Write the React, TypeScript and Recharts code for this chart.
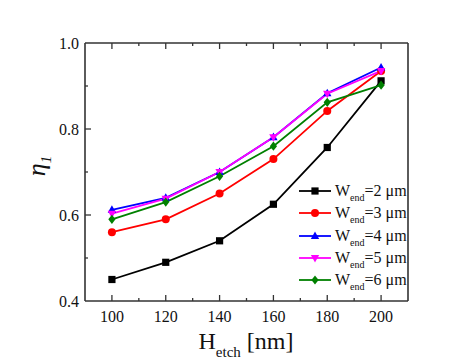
import React from "react";
import { LineChart, Line, XAxis, YAxis } from "recharts";

const FONT = "'Liberation Serif', 'Times New Roman', serif";
const AXIS = "#333333";

const H_ETCH = [100, 120, 140, 160, 180, 200];
const W2 = [0.45, 0.49, 0.54, 0.625, 0.757, 0.912];
const W3 = [0.56, 0.59, 0.65, 0.73, 0.842, 0.935];
const W4 = [0.612, 0.64, 0.70, 0.781, 0.883, 0.943];
const W5 = [0.603, 0.638, 0.70, 0.781, 0.882, 0.935];
const W6 = [0.59, 0.63, 0.69, 0.76, 0.862, 0.902];

const X_TICKS = [90, 100, 110, 120, 130, 140, 150, 160, 170, 180, 190, 200, 210];
const X_LABELS = [100, 120, 140, 160, 180, 200];
const Y_TICKS = [0.4, 0.5, 0.6, 0.7, 0.8, 0.9, 1.0];
const Y_LABELS = [0.4, 0.6, 0.8, 1.0];

const SERIES = [
  { key: "w2", width: "2", color: "#000000", shape: "square", values: W2 },
  { key: "w3", width: "3", color: "#ff0000", shape: "circle", values: W3 },
  { key: "w4", width: "4", color: "#0000ff", shape: "triangle", values: W4 },
  { key: "w5", width: "5", color: "#ff00ff", shape: "down", values: W5 },
  { key: "w6", width: "6", color: "#008000", shape: "diamond", values: W6 },
];

const data = H_ETCH.map((h, i) => {
  const row: Record<string, number> = { h };
  for (const s of SERIES) row[s.key] = s.values[i];
  return row;
});

function Marker({ cx, cy, shape, color }: { cx: number; cy: number; shape: string; color: string }) {
  const r = 3.6;
  if (shape === "square") return <rect x={cx - r} y={cy - r} width={r * 2} height={r * 2} fill={color} />;
  if (shape === "circle") return <circle cx={cx} cy={cy} r={r + 0.4} fill={color} />;
  if (shape === "triangle")
    return <polygon points={`${cx},${cy - r - 1} ${cx + r + 0.6},${cy + r - 0.6} ${cx - r - 0.6},${cy + r - 0.6}`} fill={color} />;
  if (shape === "down")
    return <polygon points={`${cx},${cy + r + 1} ${cx + r + 0.6},${cy - r + 0.6} ${cx - r - 0.6},${cy - r + 0.6}`} fill={color} />;
  return <polygon points={`${cx},${cy - r - 1} ${cx + r},${cy} ${cx},${cy + r + 1} ${cx - r},${cy}`} fill={color} />;
}

function BottomTick(props: any) {
  const { x, y, payload } = props;
  const major = X_LABELS.includes(payload.value);
  if (payload.value === 90 || payload.value === 210) return null;
  return (
    <g>
      <line x1={x} x2={x} y1={y} y2={y - (major ? 6 : 3)} stroke={AXIS} strokeWidth={1.3} />
      {major && (
        <text x={x} y={y + 21} textAnchor="middle" fontFamily={FONT} fontSize={16} fill="#111">
          {payload.value}
        </text>
      )}
    </g>
  );
}

function TopTick(props: any) {
  const { x, y, payload } = props;
  if (payload.value === 90 || payload.value === 210) return null;
  const major = X_LABELS.includes(payload.value);
  return <line x1={x} x2={x} y1={y} y2={y + (major ? 6 : 3)} stroke={AXIS} strokeWidth={1.3} />;
}

function LeftTick(props: any) {
  const { x, y, payload } = props;
  const v = Math.round(payload.value * 10) / 10;
  const major = Y_LABELS.includes(v);
  return (
    <g>
      {v !== 0.4 && v !== 1.0 && (
        <line x1={x} x2={x + (major ? 6 : 3)} y1={y} y2={y} stroke={AXIS} strokeWidth={1.3} />
      )}
      {major && (
        <text x={x - 6} y={y + 5.5} textAnchor="end" fontFamily={FONT} fontSize={16} fill="#111">
          {v.toFixed(1)}
        </text>
      )}
    </g>
  );
}

function RightTick(props: any) {
  const { x, y, payload } = props;
  const v = Math.round(payload.value * 10) / 10;
  if (v === 0.4 || v === 1.0) return null;
  const major = Y_LABELS.includes(v);
  return <line x1={x} x2={x - (major ? 6 : 3)} y1={y} y2={y} stroke={AXIS} strokeWidth={1.3} />;
}

function LegendBox() {
  return (
    <div
      style={{
        position: "absolute",
        left: 298,
        top: 180,
        fontFamily: FONT,
        fontSize: 16,
        color: "#111",
        lineHeight: "16px",
      }}
    >
      {SERIES.map((s) => (
        <div key={s.key} style={{ display: "flex", alignItems: "center", height: 22.3 }}>
          <svg width={34} height={14} style={{ marginRight: 3 }}>
            <line x1={1} x2={33} y1={7} y2={7} stroke={s.color} strokeWidth={1.8} />
            <Marker cx={17} cy={7} shape={s.shape} color={s.color} />
          </svg>
          <span style={{ whiteSpace: "nowrap" }}>
            W<sub style={{ fontSize: 10, verticalAlign: -5, lineHeight: 0 }}>end</sub>={s.width} μm
          </span>
        </div>
      ))}
    </div>
  );
}

export default function App() {
  return (
    <div style={{ position: "absolute", left: 0, top: 0, width: 474, height: 362, background: "#fff" }}>
      <LineChart width={474} height={362} data={data} margin={{ top: 33, right: 56, bottom: 31, left: 0 }}>
        <XAxis
          xAxisId="b"
          dataKey="h"
          type="number"
          domain={[90, 210]}
          ticks={X_TICKS}
          interval={0}
          height={30}
          tickSize={0}
          tickMargin={0}
          tickLine={false}
          axisLine={{ stroke: AXIS, strokeWidth: 1.6 }}
          tick={<BottomTick />}
        />
        <XAxis
          xAxisId="t"
          orientation="top"
          dataKey="h"
          type="number"
          domain={[90, 210]}
          ticks={X_TICKS}
          interval={0}
          height={10}
          tickSize={0}
          tickMargin={0}
          tickLine={false}
          axisLine={{ stroke: AXIS, strokeWidth: 1.6 }}
          tick={<TopTick />}
        />
        <YAxis
          yAxisId="l"
          type="number"
          domain={[0.4, 1.0]}
          ticks={Y_TICKS}
          interval={0}
          width={85}
          tickSize={0}
          tickMargin={0}
          tickLine={false}
          axisLine={{ stroke: AXIS, strokeWidth: 1.6 }}
          tick={<LeftTick />}
        />
        <YAxis
          yAxisId="r"
          orientation="right"
          type="number"
          domain={[0.4, 1.0]}
          ticks={Y_TICKS}
          interval={0}
          width={10}
          tickSize={0}
          tickMargin={0}
          tickLine={false}
          axisLine={{ stroke: AXIS, strokeWidth: 1.6 }}
          tick={<RightTick />}
        />
        {SERIES.map((s) => (
          <Line
            key={s.key}
            xAxisId="b"
            yAxisId="l"
            dataKey={s.key}
            stroke={s.color}
            strokeWidth={1.8}
            isAnimationActive={false}
            dot={(p: any) => <Marker key={`${s.key}-${p.index}`} cx={p.cx} cy={p.cy} shape={s.shape} color={s.color} />}
            activeDot={false}
          />
        ))}
        <text x={246} y={349} textAnchor="middle" fontFamily={FONT} fontSize={24} fill="#111">
          H<tspan fontSize={15} dy={8}>etch</tspan>
          <tspan dy={-8}> [nm]</tspan>
        </text>
        <text
          transform="translate(45,166) rotate(-90)"
          textAnchor="middle"
          fontFamily={FONT}
          fontSize={26}
          fontStyle="italic"
          fill="#111"
        >
          η<tspan fontSize={15} dy={6}>1</tspan>
        </text>
      </LineChart>
      <LegendBox />
    </div>
  );
}
